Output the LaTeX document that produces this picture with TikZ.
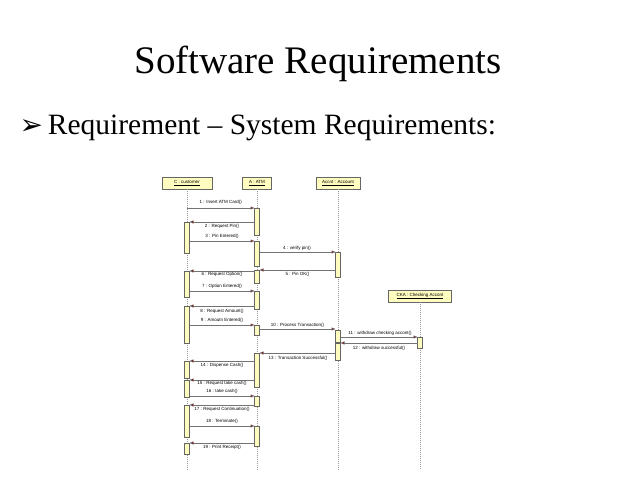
\documentclass[tikz,border=0pt]{standalone}
\usepackage{fontspec}
\setmainfont{Liberation Serif}
\newfontfamily\dejavu{DejaVu Sans}
\newfontfamily\lsans{Liberation Sans}
\usetikzlibrary{arrows.meta}
\begin{document}
\begin{tikzpicture}[x=1pt,y=-1pt,
  obj/.style={draw=black!60,fill=yellow!25,minimum height=12pt,inner sep=1pt,font=\lsans\fontsize{4.5}{5}\selectfont},
  life/.style={draw=black!40,dash pattern=on 1pt off 1pt},
  act/.style={draw=black!60,fill=yellow!25},
  msg/.style={draw=black!55,line width=0.5pt,-{Triangle[length=4pt,width=3pt,fill=red!50!black]}},
  lab/.style={font=\lsans\fontsize{4.5}{5}\selectfont,inner sep=0.5pt}]
\useasboundingbox (0,0) rectangle (638,478);
\node[font=\fontsize{39}{44}\selectfont] (title) at (318,64) {Software Requirements};
\node[anchor=west,font=\fontsize{29.5}{33}\selectfont] (bul) at (16,128) {{\dejavu\fontsize{28}{30}\selectfont ➢}\,Requirement – System Requirements:};
% objects
\node[obj,minimum width=50pt] (c) at (187,183) {\underline{C : customer}};
\node[obj,minimum width=29pt] (a) at (257,183) {\underline{A : ATM}};
\node[obj,minimum width=44pt] (acc) at (338,183) {\underline{Accnt : Account}};
\node[obj,minimum width=63pt] (k) at (420,296) {\underline{CKA : Checking Accont}};
\draw[life] (c.south) -- (187,470);
\draw[life] (a.south) -- (257,470);
\draw[life] (acc.south) -- (338,470);
\draw[life] (k.south) -- (420,470);
% activations
\foreach \x/\a/\b in {257/208/235,187/222/253,257/241/266,338/252/277,257/270/283,187/271/297,257/291/309,187/306/343,257/325/335,338/330/342,338/343/360,420/337/348,257/353/387,187/361/378,187/380/397,257/396/406,187/405/437,257/426/446,187/443/454}
  \draw[act] (\x-2.5,\a) rectangle (\x+2.5,\b);
% messages
\foreach \n/\fx/\tx/\y/\ly/\t in {
 1/187/254.5/208/202/{1 : Insert ATM Card()},
 2/254.5/189.5/222/226/{2 : Request Pin()},
 3/189.5/254.5/241/236/{3 : Pin Entered()},
 5/335.5/259.5/270/274/{5 : Pin OK()},
 6/254.5/189.5/271/274/{6 : Request Option()},
 7/189.5/254.5/291/286/{7 : Option Entered()},
 8/254.5/189.5/306/311/{8 : Request Amount()},
 9/189.5/254.5/325/320/{9 : Amoutn Entered()},
 10/259.5/335.5/329/325/{10 : Process Transaction()},
 12/417.5/340.5/343/348/{12 : withdraw successful()},
 14/254.5/189.5/361/365/{14 : Dispense Cash()},
 15/254.5/189.5/380/383/{15 : Request  take cash()},
 16/189.5/254.5/396/391/{16 : take cash()},
 17/254.5/189.5/405/409/{17 : Request Continuation()},
 18/189.5/254.5/426/421/{18 : Terminate()},
 19/254.5/189.5/443/447/{19 : Print Receipt()}}
 {\coordinate (f\n) at (\fx,\y); \coordinate (t\n) at (\tx,\y);
  \draw[msg] (f\n) -- (t\n);
  \node[lab] (l\n) at ({(\fx+\tx)/2},\ly) {\t};}
\coordinate (f4) at (259.5,252); \coordinate (t4) at (335.5,252);
\draw[msg] (f4) -- (t4); \node[lab] (l4) at (297,248) {4 : verify pin()};
\coordinate (f11) at (340.5,337); \coordinate (t11) at (417.5,337);
\draw[msg] (f11) -- (t11); \node[lab] (l11) at (380,333) {11 : withdraw checking accont()};
\coordinate (f13) at (335.5,353); \coordinate (t13) at (259.5,353);
\draw[msg] (f13) -- (t13); \node[lab] (l13) at (298,358) {13 : Transaction Successful()};
\end{tikzpicture}
\end{document}
